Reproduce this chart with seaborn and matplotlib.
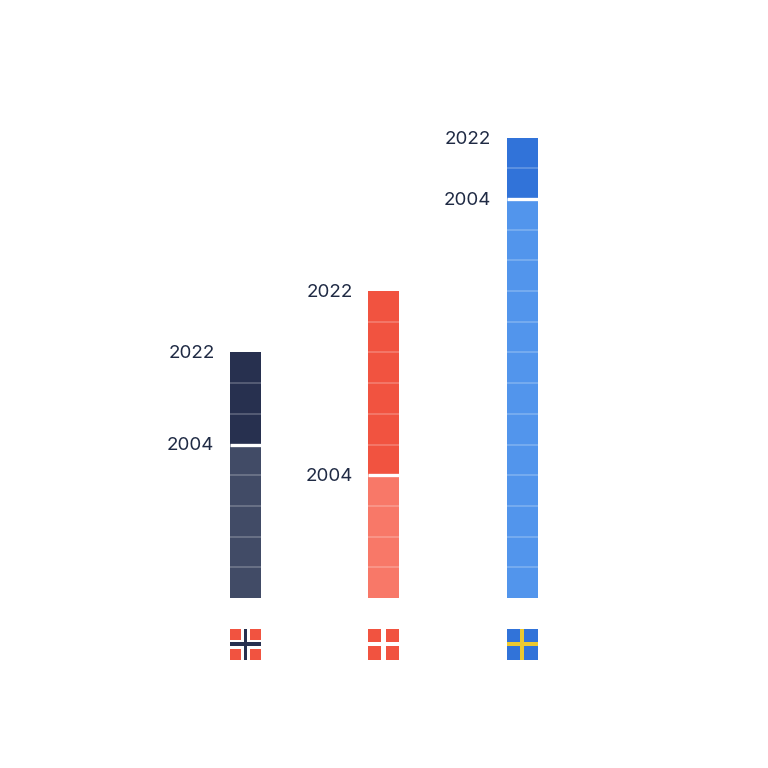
import pandas as pd
import matplotlib.pyplot as plt
import seaborn as sns
from matplotlib.patches import Rectangle

countries = ["Norway", "Denmark", "Sweden"]
values_2004 = [5, 4, 13]
values_2022 = [8, 10, 15]
year_labels = ["2004", "2022"]

colors_2022 = ["#27304f", "#f15340", "#3173d9"]
colors_2004 = ["#414b66", "#f87868", "#5295ec"]
text_color = "#1f2a44"

BAR_WIDTH = 31 / 138.3
UNIT_X = 138.3
UNIT_Y = 30.7

df = pd.DataFrame({"country": countries, "y2004": values_2004, "y2022": values_2022})

sns.set_theme(style="white")
plt.rcParams["font.family"] = ["Inter", "DejaVu Sans"]

fig = plt.figure(figsize=(7.68, 7.68), dpi=100)
ax = fig.add_axes([0, 0, 1, 1])

# 2022 totals behind, 2004 part drawn over them
sns.barplot(data=df, x="country", y="y2022", hue="country", palette=colors_2022,
            width=BAR_WIDTH, saturation=1, legend=False, linewidth=0, ax=ax)
sns.barplot(data=df, x="country", y="y2004", hue="country", palette=colors_2004,
            width=BAR_WIDTH, saturation=1, legend=False, linewidth=0, ax=ax)

half = BAR_WIDTH / 2
label_gap = 15.5 / UNIT_X
label_shift = 1.5 / UNIT_Y
for i, (old, new) in enumerate(zip(values_2004, values_2022)):
    # thin unit separators
    for unit in range(1, new):
        if unit == old:
            continue
        ax.hlines(unit, i - half, i + half, color="white", alpha=0.25, linewidth=1.2)
    # thick break between the two years
    ax.hlines(old, i - half, i + half, color="white", linewidth=2.4)
    ax.text(i - half - label_gap, old - label_shift, year_labels[0], ha="right", va="center",
            fontsize=13.5, color=text_color)
    ax.text(i - half - label_gap, new - label_shift, year_labels[1], ha="right", va="center",
            fontsize=13.5, color=text_color)


def add_rect(x0, x1, y0, y1, color):
    ax.add_patch(Rectangle((x0, y0), x1 - x0, y1 - y0, facecolor=color, edgecolor="none"))


def add_flag(i, background, crosses):
    # flag sits under the bar, one unit tall and one bar wide
    y_mid = -1.5
    y_half = 15.5 / UNIT_Y
    add_rect(i - half, i + half, y_mid - y_half, y_mid + y_half, background)
    for color, thick in crosses:
        add_rect(i - thick / 2 / UNIT_X, i + thick / 2 / UNIT_X,
                 y_mid - y_half, y_mid + y_half, color)
        add_rect(i - half, i + half, y_mid - thick / 2 / UNIT_Y,
                 y_mid + thick / 2 / UNIT_Y, color)


add_flag(0, "#f15340", [("white", 9), ("#27304f", 3.5)])
add_flag(1, "#f15340", [("white", 4.7)])
add_flag(2, "#3173d9", [("#ecc92f", 4.7)])

ax.set_xlim(-245.5 / UNIT_X, (768 - 245.5) / UNIT_X)
ax.set_ylim(-(768 - 598) / UNIT_Y, 598 / UNIT_Y)
ax.axis("off")

fig.savefig("out.png", dpi=100, facecolor="white")
